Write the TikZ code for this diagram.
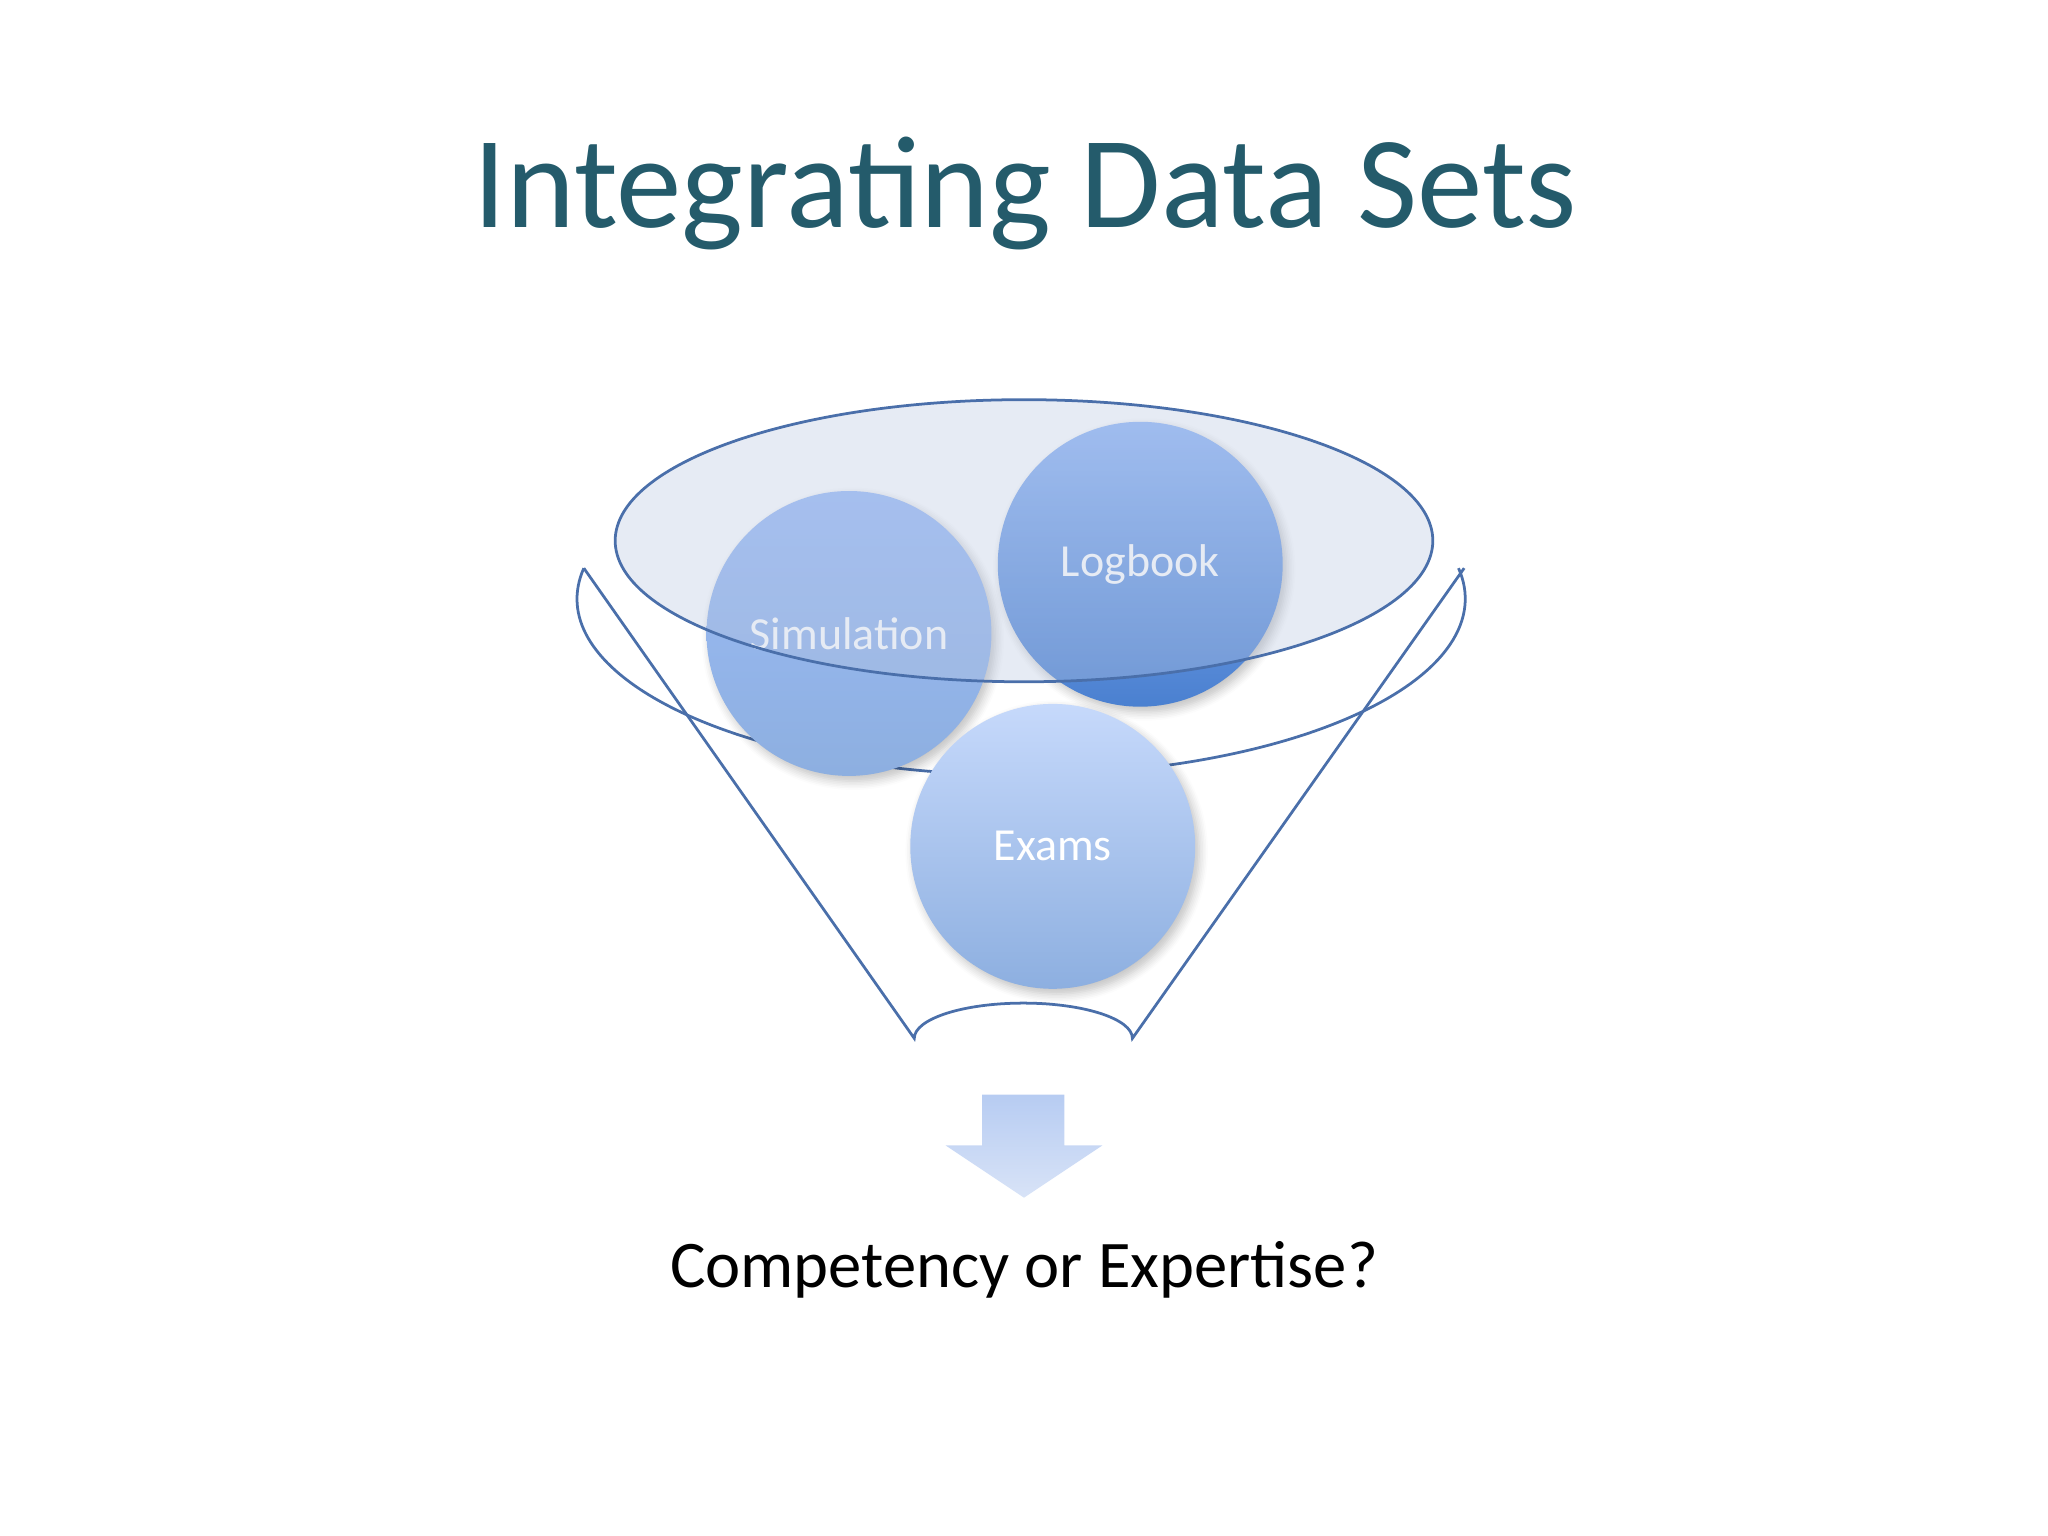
\documentclass[tikz,border=0pt]{standalone}
\usepackage{fontspec}
\setmainfont{Carlito}
\usetikzlibrary{shadows.blur}
\definecolor{titlec}{HTML}{245B6B}
\definecolor{edge}{HTML}{4A6FAA}
\definecolor{simT}{HTML}{9CBCF7}
\definecolor{simB}{HTML}{8DAFE0}
\definecolor{logT}{HTML}{93B8F7}
\definecolor{logB}{HTML}{4A80D0}
\definecolor{exaT}{HTML}{C6D9FB}
\definecolor{ellF}{HTML}{B8C6E0}
\definecolor{arrT}{HTML}{B7CCF2}
\definecolor{arrB}{HTML}{D8E3F7}
\tikzset{
  ball/.style={circle,minimum size=2.18cm,inner sep=0pt,text=white,font=\fontsize{10}{12}\selectfont,
    blur shadow={shadow xshift=0.03cm,shadow yshift=-0.04cm,shadow blur steps=6,shadow opacity=25}},
  funnel/.style={draw=edge,line width=0.6pt}
}
\begin{document}
\begin{tikzpicture}[x=0.01cm,y=-0.01cm]
\useasboundingbox (0,0) rectangle (1568,1176);
\node[text=titlec,font=\fontsize{28.5}{30}\selectfont] (title) at (785,148) {Integrating Data Sets};
% outer funnel
\draw[funnel] (447,435) -- (700,795) arc[start angle=180,end angle=360,x radius=83.5,y radius=27] -- (1121,435);
\draw[funnel] (447,435) arc[start angle=190,end angle=-10,x radius=340,y radius=135] ;
% circles
\node[ball,top color=simT,bottom color=simB] (sim) at (650,485) {Simulation};
\node[ball,top color=logT,bottom color=logB] (log) at (873,432) {Logbook};
\node[ball,top color=exaT,bottom color=simB] (exa) at (806,648) {Exams};
% inner ellipse
\draw[funnel,fill=ellF,fill opacity=0.35] (784,414) ellipse[x radius=313,y radius=108];
% arrow
\shade[top color=arrT,bottom color=arrB] (752,838) -- (815,838) -- (815,877) -- (844,877) -- (784,917) -- (724,877) -- (752,877) -- cycle;
\node[font=\fontsize{14.5}{16}\selectfont] (res) at (784,972) {Competency or Expertise?};
\end{tikzpicture}
\end{document}
